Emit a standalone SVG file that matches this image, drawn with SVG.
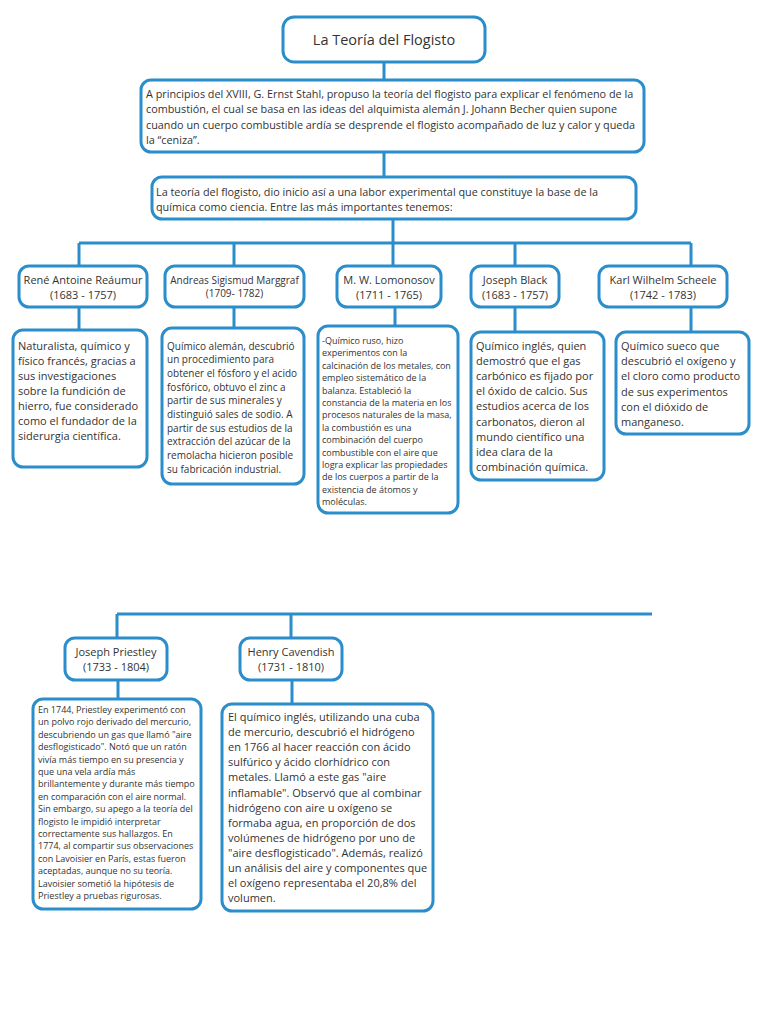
<svg xmlns="http://www.w3.org/2000/svg" width="768" height="1024" viewBox="0 0 768 1024">
<style>
.box{fill:#fff;stroke:#2b8ecb;stroke-width:3}
.ln{fill:none;stroke:#2b8ecb;stroke-width:3}
text{font-family:"Open Sans","DejaVu Sans",sans-serif;fill:#333}
.t14{font-size:14.5px}
.t11{font-size:11px}
.t108{font-size:10.83px}
.t10{font-size:10px}
.t9{font-size:9px}
.c{text-anchor:middle}
</style>
<rect width="768" height="1024" fill="#fff"/>
<g id="connectors">
<path class="ln" d="M384 62V80M384 152V177M393 218V243M79 243H691M79 243V266M234 243V266M393 243V266M515 243V266M691 243V266"/>
<path class="ln" d="M79 307V330M234 307V328M395 307V326M515 307V332M691 307V332"/>
<path class="ln" d="M117 614H652M117 614V638M291 614V638M118 680V699M292 680V704"/>
</g>
<g id="title"><rect class="box" x="283" y="17" width="202" height="45" rx="11"/><text class="t14 c" x="384" y="45">La Teoría del Flogisto</text></g>
<g id="intro"><rect class="box" x="141" y="80" width="503" height="72" rx="10"/>
<text class="t108"><tspan x="146" y="97.5">A principios del XVIII, G. Ernst Stahl, propuso la teoría del flogisto para explicar el fenómeno de la</tspan><tspan x="146" y="113">combustión, el cual se basa en las ideas del alquimista alemán J. Johann Becher quien supone</tspan><tspan x="146" y="128.5">cuando un cuerpo combustible ardía se desprende el flogisto acompañado de luz y calor y queda</tspan><tspan x="146" y="144">la “ceniza”.</tspan></text></g>
<g id="inicio"><rect class="box" x="152" y="177" width="484" height="42" rx="10"/>
<text class="t108"><tspan x="156" y="196">La teoría del flogisto, dio inicio así a una labor experimental que constituye la base de la</tspan><tspan x="156" y="211">química como ciencia. Entre las más importantes tenemos:</tspan></text></g>
<g id="reaumur"><rect class="box" x="19" y="266" width="128" height="41" rx="10"/>
<text class="t11 c"><tspan x="83" y="284">René Antoine Reáumur</tspan><tspan x="83" y="299">(1683 - 1757)</tspan></text></g>
<g id="marggraf"><rect class="box" x="165" y="266" width="139" height="41" rx="10"/>
<text class="t10 c"><tspan x="234.5" y="284">Andreas Sigismud Marggraf</tspan><tspan x="234.5" y="297">(1709- 1782)</tspan></text></g>
<g id="lomonosov"><rect class="box" x="337" y="266" width="104" height="41" rx="10"/>
<text class="t11 c"><tspan x="389" y="284">M. W. Lomonosov</tspan><tspan x="389" y="299">(1711 - 1765)</tspan></text></g>
<g id="black"><rect class="box" x="471" y="266" width="88" height="41" rx="10"/>
<text class="t11 c"><tspan x="515" y="284">Joseph Black</tspan><tspan x="515" y="299">(1683 - 1757)</tspan></text></g>
<g id="scheele"><rect class="box" x="599" y="266" width="128" height="41" rx="10"/>
<text class="t11 c"><tspan x="663" y="284">Karl Wilhelm Scheele</tspan><tspan x="663" y="299">(1742 - 1783)</tspan></text></g>
<g id="reaumur-desc"><rect class="box" x="13" y="330" width="134" height="137" rx="10"/>
<text class="t11"><tspan x="18" y="350">Naturalista, químico y</tspan><tspan x="18" y="365">físico francés, gracias a</tspan><tspan x="18" y="380">sus investigaciones</tspan><tspan x="18" y="395">sobre la fundición de</tspan><tspan x="18" y="410">hierro, fue considerado</tspan><tspan x="18" y="425">como el fundador de la</tspan><tspan x="18" y="440">siderurgia científica.</tspan></text></g>
<g id="marggraf-desc"><rect class="box" x="162" y="328" width="142" height="156" rx="10"/>
<text class="t10"><tspan x="167" y="349.5">Químico alemán, descubrió</tspan><tspan x="167" y="363.2">un procedimiento para</tspan><tspan x="167" y="376.9">obtener el fósforo y el acido</tspan><tspan x="167" y="390.6">fosfórico, obtuvo el zinc a</tspan><tspan x="167" y="404.3">partir de sus minerales y</tspan><tspan x="167" y="418">distinguió sales de sodio. A</tspan><tspan x="167" y="431.7">partir de sus estudios de la</tspan><tspan x="167" y="445.4">extracción del azúcar de la</tspan><tspan x="167" y="459.1">remolacha hicieron posible</tspan><tspan x="167" y="472.8">su fabricación industrial.</tspan></text></g>
<g id="lomonosov-desc"><rect class="box" x="318" y="326" width="140" height="187" rx="10"/>
<text class="t9"><tspan x="322" y="344">-Químico ruso, hizo</tspan><tspan x="322" y="356.4">experimentos con la</tspan><tspan x="322" y="368.8">calcinación de los metales, con</tspan><tspan x="322" y="381.2">empleo sistemático de la</tspan><tspan x="322" y="393.6">balanza. Estableció la</tspan><tspan x="322" y="406">constancia de la materia en los</tspan><tspan x="322" y="418.4">procesos naturales de la masa,</tspan><tspan x="322" y="430.8">la combustión es una</tspan><tspan x="322" y="443.2">combinación del cuerpo</tspan><tspan x="322" y="455.6">combustible con el aire que</tspan><tspan x="322" y="468">logra explicar las propiedades</tspan><tspan x="322" y="480.4">de los cuerpos a partir de la</tspan><tspan x="322" y="492.8">existencia de átomos y</tspan><tspan x="322" y="505.2">moléculas.</tspan></text></g>
<g id="black-desc"><rect class="box" x="471" y="332" width="133" height="148" rx="10"/>
<text class="t11"><tspan x="476" y="350">Químico inglés, quien</tspan><tspan x="476" y="365.1">demostró que el gas</tspan><tspan x="476" y="380.2">carbónico es fijado por</tspan><tspan x="476" y="395.3">el óxido de calcio. Sus</tspan><tspan x="476" y="410.4">estudios acerca de los</tspan><tspan x="476" y="425.5">carbonatos, dieron al</tspan><tspan x="476" y="440.6">mundo científico una</tspan><tspan x="476" y="455.7">idea clara de la</tspan><tspan x="476" y="470.8">combinación química.</tspan></text></g>
<g id="scheele-desc"><rect class="box" x="616" y="332" width="133" height="102" rx="10"/>
<text class="t11"><tspan x="621" y="350">Químico sueco que</tspan><tspan x="621" y="365.2">descubrió el oxígeno y</tspan><tspan x="621" y="380.4">el cloro como producto</tspan><tspan x="621" y="395.6">de sus experimentos</tspan><tspan x="621" y="410.8">con el dióxido de</tspan><tspan x="621" y="426">manganeso.</tspan></text></g>
<g id="priestley"><rect class="box" x="65" y="638" width="102" height="42" rx="10"/>
<text class="t11 c"><tspan x="116" y="656">Joseph Priestley</tspan><tspan x="116" y="671">(1733 - 1804)</tspan></text></g>
<g id="cavendish"><rect class="box" x="240" y="638" width="102" height="42" rx="10"/>
<text class="t11 c"><tspan x="291" y="656">Henry Cavendish</tspan><tspan x="291" y="671">(1731 - 1810)</tspan></text></g>
<g id="priestley-desc"><rect class="box" x="33" y="699" width="168" height="210" rx="10"/>
<text class="t9"><tspan x="38" y="713">En 1744, Priestley experimentó con</tspan><tspan x="38" y="725.4">un polvo rojo derivado del mercurio,</tspan><tspan x="38" y="737.8">descubriendo un gas que llamó "aire</tspan><tspan x="38" y="750.2">desflogisticado". Notó que un ratón</tspan><tspan x="38" y="762.6">vivía más tiempo en su presencia y</tspan><tspan x="38" y="775">que una vela ardía más</tspan><tspan x="38" y="787.4">brillantemente y durante más tiempo</tspan><tspan x="38" y="799.8">en comparación con el aire normal.</tspan><tspan x="38" y="812.2">Sin embargo, su apego a la teoría del</tspan><tspan x="38" y="824.6">flogisto le impidió interpretar</tspan><tspan x="38" y="837">correctamente sus hallazgos. En</tspan><tspan x="38" y="849.4">1774, al compartir sus observaciones</tspan><tspan x="38" y="861.8">con Lavoisier en París, estas fueron</tspan><tspan x="38" y="874.2">aceptadas, aunque no su teoría.</tspan><tspan x="38" y="886.6">Lavoisier sometió la hipótesis de</tspan><tspan x="38" y="899">Priestley a pruebas rigurosas.</tspan></text></g>
<g id="cavendish-desc"><rect class="box" x="222" y="704" width="211" height="207" rx="10"/>
<text class="t11"><tspan x="228" y="721">El químico inglés, utilizando una cuba</tspan><tspan x="228" y="736.1">de mercurio, descubrió el hidrógeno</tspan><tspan x="228" y="751.2">en 1766 al hacer reacción con ácido</tspan><tspan x="228" y="766.3">sulfúrico y ácido clorhídrico con</tspan><tspan x="228" y="781.4">metales. Llamó a este gas "aire</tspan><tspan x="228" y="796.5">inflamable". Observó que al combinar</tspan><tspan x="228" y="811.6">hidrógeno con aire u oxígeno se</tspan><tspan x="228" y="826.7">formaba agua, en proporción de dos</tspan><tspan x="228" y="841.8">volúmenes de hidrógeno por uno de</tspan><tspan x="228" y="856.9">"aire desflogisticado". Además, realizó</tspan><tspan x="228" y="872">un análisis del aire y componentes que</tspan><tspan x="228" y="887.1">el oxígeno representaba el 20,8% del</tspan><tspan x="228" y="902.2">volumen.</tspan></text></g>
</svg>
